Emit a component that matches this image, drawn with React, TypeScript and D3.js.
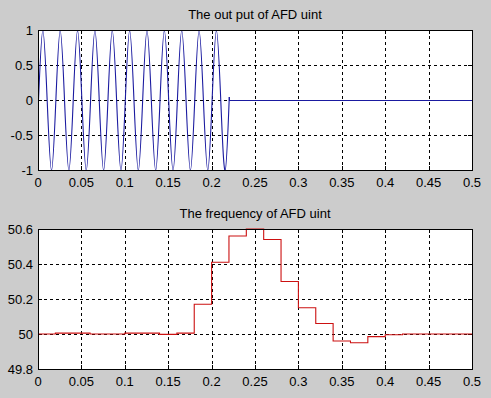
import React, { useEffect, useRef } from 'react';
import * as d3 from 'd3';

// top panel: output signal, peaks/troughs/zero crossings
const waveTimes = [
    0, 0.005, 0.01, 0.015, 0.02, 0.025, 0.03, 0.035, 0.04, 0.045,
    0.05, 0.055, 0.06, 0.065, 0.07, 0.075, 0.08, 0.085, 0.09, 0.095,
    0.1, 0.105, 0.11, 0.115, 0.12, 0.125, 0.13, 0.135, 0.14, 0.145,
    0.15, 0.155, 0.16, 0.165, 0.17, 0.175, 0.18, 0.185, 0.19, 0.195,
    0.2, 0.205, 0.21, 0.215, 0.2198
];
const waveValues = [
    0, 1, 0, -1, 0, 1, 0, -1, 0, 1,
    0, -1, 0, 1, 0, -1, 0, 1, 0, -1,
    0, 1, 0, -1, 0, 1, 0, -1, 0, 1,
    0, -1, 0, 1, 0, -1, 0, 1, 0, -1,
    0, 1, 0, -1, 0.05
];
const tailTimes = [0.2198, 0.22, 0.5];
const tailValues = [0.05, 0, 0];

// bottom panel: frequency steps
const freqTimes = [
    0, 0.02, 0.04, 0.06, 0.08, 0.1, 0.12, 0.14, 0.16, 0.18, 0.2,
    0.22, 0.24, 0.26, 0.28, 0.3, 0.32, 0.34, 0.36, 0.38, 0.4, 0.42, 0.5
];
const freqValues = [
    50, 50.005, 50.005, 50, 50, 50.005, 50.005, 49.998, 50.005, 50.17, 50.41,
    50.56, 50.6, 50.54, 50.3, 50.15, 50.06, 49.96, 49.95, 49.985, 49.996, 50, 50
];

const xTicks = [0, 0.05, 0.1, 0.15, 0.2, 0.25, 0.3, 0.35, 0.4, 0.45, 0.5];
const xTickLabels = ["0", "0.05", "0.1", "0.15", "0.2", "0.25", "0.3", "0.35", "0.4", "0.45", "0.5"];
const topYTicks = [-1, -0.5, 0, 0.5, 1];
const topYTickLabels = ["-1", "-0.5", "0", "0.5", "1"];
const botYTicks = [49.8, 50, 50.2, 50.4, 50.6];
const botYTickLabels = ["49.8", "50", "50.2", "50.4", "50.6"];

const W = 491, H = 398;
const FONT = "'Liberation Sans', Arial, sans-serif";

const App = () => {
    const ref = useRef<SVGSVGElement | null>(null);

    useEffect(() => {
        const svg = d3.select(ref.current);
        svg.selectAll("*").remove();

        svg.append("rect").attr("width", W).attr("height", H).attr("fill", "#cccccc");

        const left = 38, right = 472;

        function panel(top: number, bottom: number, title: string, yDomain: number[],
            yTicks: number[], yLabels: string[], id: string) {
            const x = d3.scaleLinear().domain([0, 0.5]).range([left, right]);
            const y = d3.scaleLinear().domain(yDomain).range([bottom, top]);

            svg.append("rect")
                .attr("x", left).attr("y", top)
                .attr("width", right - left).attr("height", bottom - top)
                .attr("fill", "#ffffff");

            svg.append("clipPath").attr("id", id)
                .append("rect")
                .attr("x", left).attr("y", top - 1)
                .attr("width", right - left).attr("height", bottom - top + 2);

            const g = svg.append("g");

            // grid
            xTicks.slice(1, -1).forEach(t => {
                g.append("line")
                    .attr("x1", Math.round(x(t)) + 0.5).attr("x2", Math.round(x(t)) + 0.5)
                    .attr("y1", top).attr("y2", bottom)
                    .attr("stroke", "#000").attr("stroke-dasharray", "3,3");
            });
            yTicks.slice(1, -1).forEach(t => {
                g.append("line")
                    .attr("y1", Math.round(y(t)) + 0.5).attr("y2", Math.round(y(t)) + 0.5)
                    .attr("x1", left).attr("x2", right)
                    .attr("stroke", "#000").attr("stroke-dasharray", "3,3");
            });

            // ticks inside, on all four sides
            const tl = 4;
            xTicks.forEach(t => {
                const px = Math.round(x(t)) + 0.5;
                g.append("line").attr("x1", px).attr("x2", px)
                    .attr("y1", bottom).attr("y2", bottom - tl).attr("stroke", "#000");
                g.append("line").attr("x1", px).attr("x2", px)
                    .attr("y1", top).attr("y2", top + tl).attr("stroke", "#000");
            });
            yTicks.forEach(t => {
                const py = Math.round(y(t)) + 0.5;
                g.append("line").attr("y1", py).attr("y2", py)
                    .attr("x1", left).attr("x2", left + tl).attr("stroke", "#000");
                g.append("line").attr("y1", py).attr("y2", py)
                    .attr("x1", right).attr("x2", right - tl).attr("stroke", "#000");
            });

            // tick labels
            xTicks.forEach((t, i) => {
                g.append("text")
                    .attr("x", x(t)).attr("y", bottom + 17)
                    .attr("text-anchor", "middle")
                    .style("font-family", FONT).style("font-size", "13px")
                    .text(xTickLabels[i]);
            });
            yTicks.forEach((t, i) => {
                g.append("text")
                    .attr("x", left - 5).attr("y", y(t) + 4.5)
                    .attr("text-anchor", "end")
                    .style("font-family", FONT).style("font-size", "13px")
                    .text(yLabels[i]);
            });

            // title
            g.append("text")
                .attr("x", (left + right) / 2).attr("y", top - 11)
                .attr("text-anchor", "middle")
                .style("font-family", FONT).style("font-size", "13px")
                .text(title);

            return { x, y, g };
        }

        // top: output
        const p1 = panel(30, 170, "The out put of AFD uint", [-1, 1], topYTicks, topYTickLabels, "clipTop");
        const waveData = waveTimes.map((t, i) => [t, waveValues[i]] as [number, number]);
        const tailData = tailTimes.map((t, i) => [t, tailValues[i]] as [number, number]);
        const waveLine = d3.line<[number, number]>()
            .x(d => p1.x(d[0])).y(d => p1.y(d[1]))
            .curve(d3.curveNatural);
        const tailLine = d3.line<[number, number]>()
            .x(d => p1.x(d[0])).y(d => p1.y(d[1]));
        const lines1 = svg.append("g").attr("clip-path", "url(#clipTop)")
            .append("g").attr("transform", "translate(0.5,0.5)");
        lines1.append("path").attr("d", waveLine(waveData))
            .attr("fill", "none").attr("stroke", "#1a1aa0").attr("stroke-width", 1.1);
        lines1.append("path").attr("d", tailLine(tailData))
            .attr("fill", "none").attr("stroke", "#1a1aa0").attr("stroke-width", 1.1);

        // bottom: frequency
        const p2 = panel(229, 369, "The frequency of AFD uint", [49.8, 50.6], botYTicks, botYTickLabels, "clipBot");
        const freqData = freqTimes.map((t, i) => [t, freqValues[i]] as [number, number]);
        const stepLine = d3.line<[number, number]>()
            .x(d => p2.x(d[0])).y(d => p2.y(d[1]))
            .curve(d3.curveStepAfter);
        svg.append("g").attr("clip-path", "url(#clipBot)")
            .append("path").attr("d", stepLine(freqData))
            .attr("fill", "none").attr("stroke", "#cc1111").attr("stroke-width", 1.1);

        // axes boxes on top
        [[30, 170], [229, 369]].forEach(([t, b]) => {
            svg.append("rect")
                .attr("x", left + 0.5).attr("y", t + 0.5)
                .attr("width", right - left).attr("height", b - t)
                .attr("fill", "none").attr("stroke", "#000");
        });
    }, []);

    return (
        <svg ref={ref} width={W} height={H}
            style={{ position: 'absolute', left: 0, top: 0, display: 'block' }} />
    );
};

export default App;
